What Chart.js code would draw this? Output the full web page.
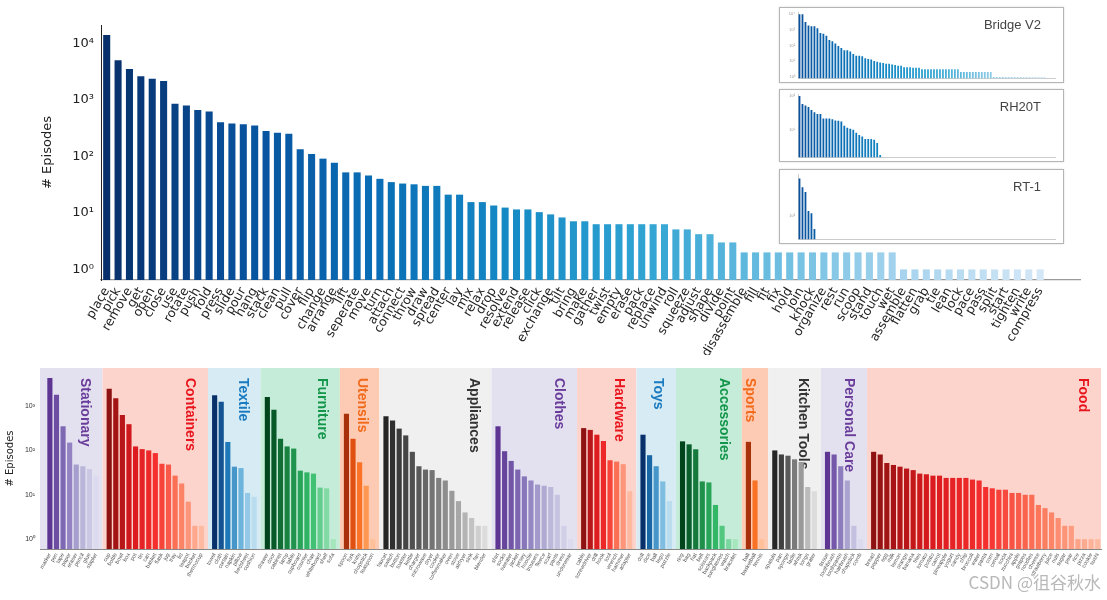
<!DOCTYPE html>
<html>
<head>
<meta charset="UTF-8">
<script src="https://cdn.jsdelivr.net/npm/chart.js"></script>
<style>
*{margin:0;padding:0;box-sizing:border-box;}
body{width:1107px;height:600px;background:#fff;position:relative;overflow:hidden;font-family:'DejaVu Sans',sans-serif;}
#topWrap{position:absolute;left:0;top:0;width:1107px;height:355px;}
#botWrap{position:absolute;left:0;top:360px;width:1107px;height:240px;}
.inset{position:absolute;left:779px;width:285px;background:#fff;border:1px solid #b5b5b5;box-shadow:0 0 2px rgba(0,0,0,.15);}
.inset .name{position:absolute;right:22px;top:9px;font:13px 'Liberation Sans',sans-serif;color:#444;}
.mark{position:absolute;right:6px;bottom:6px;font:17px 'Noto Sans CJK SC','DejaVu Sans',sans-serif;color:rgba(160,160,160,.75);}
</style>
</head>
<body>
<div id="topWrap"><canvas id="topChart"></canvas></div>
<div class="inset" style="top:7px;height:76px;"><canvas id="bridge"></canvas><div class="name">Bridge V2</div></div>
<div class="inset" style="top:89px;height:73px;"><canvas id="rh20t"></canvas><div class="name">RH20T</div></div>
<div class="inset" style="top:169px;height:75px;"><canvas id="rt1"></canvas><div class="name">RT-1</div></div>
<div id="botWrap"><canvas id="botChart"></canvas></div>
<div class="mark">CSDN @徂谷秋水</div>
<script>
// ---- top: verbs ----
const verbs=['place','pick','remove','get','open','close','use','rotate','push','fold','press','slide','pour','hang','stack','clean','pull','cover','flip','change','arrange','lift','seperate','move','turn','attach','connect','throw','draw','spread','center','lay','mix','relax','drop','resolve','extend','release','click','exchange','tilt','bring','make','gather','twist','empty','erase','pack','replace','unwind','roll','squeeze','adjust','shape','divide','point','disassemble','fill','fit','fix','hold','join','knock','organize','rest','run','scoop','stand','touch','wet','assemble','flatten','grab','tie','lean','lock','pace','pass','split','start','tighten','write','compress'];
const verbCounts=[14000,5000,3500,2600,2350,2150,850,790,660,620,400,380,370,350,280,260,250,133,110,91,77,52,52,46,40,35,33,32,30,30,21,21,15.5,15.5,13.5,12.4,11.5,11.5,10.3,9.4,8.3,7.1,7.1,6.3,6.3,6.3,6.3,6.3,6.3,6.3,5.1,5.1,4.2,4.2,3,3,2,2,2,2,2,2,2,2,2,2,2,2,2,2,1,1,1,1,1,1,1,1,1,1,1,1,1];
const logTicks=[1,10,100,1000,10000];

// ---- insets ----
const bridgeCounts=[10000,10000,3200,1900,1700,1700,1300,640,580,430,230,190,140,95,70,52,52,43,29,23,23,21,16,14,13,10.5,9.5,8.5,7.8,7,7,6.4,5.8,5.2,5.2,4.3,4.3,4.3,3.9,3.9,3.9,3.2,3.2,3.2,3.2,3.2,3.2,3.2,3.2,3.2,3.2,3.2,3.2,3.2,2.1,2.1,2.1,2.1,2.1,2.1,2.1,2.1,2.1,2.1,2.1,1,1,1,1,1,1,1,1,1,1,1,1,1,1,1,1,1,1];
const rh20tCounts=[100,59,53,48,39,34,30,30,22,22,22,21,19.5,19,18,13.7,11.8,11.1,10.4,8.5,7.3,6.6,5.6,5.6,5.6,5.3,4.3,1.9];
const rt1Counts=[420,300,250,120,110,60];

// ---- bottom: objects by category ----
const groupNames=['Stationary','Containers','Textile','Furniture','Utensils','Appliances','Clothes','Hardware','Toys','Accessories','Sports','Kitchen Tools','Personal Care','Food'];
const stationaryItems=['marker','pen','tape','paper','eraser','pencil','glue','stapler'];
const stationaryCounts=[4300,1800,350,150,48,44,38,27];
const containerItems=['cup','bottle','bowl','box','pot','tin','can','basket','flask','jug','tray','lid','teapot','bucket','thermocup'];
const containerCounts=[2450,1500,630,390,123,107,100,87,50,48,27,18,7,2,2];
const textileItems=['towel','cloth','curtain','napkin','pillow','bedsheet','cushion'];
const textileCounts=[1750,1250,155,43,40,11,9];
const furnitureItems=['drawer','door','cabinet','lamp','table','cupboard','counter','chair','whiteboard','shelf','sofa'];
const furnitureCounts=[1600,820,183,123,110,35,32,30,14.5,14,1];
const utensilItems=['spoon','fork','knife','chopstick','teaspoon'];
const utensilCounts=[670,183,54,16,1];
const applianceItems=['faucet','switch','button','toaster','kettle','charger','microwave','dryer','cooker','coffeemaker','oven','stove','airfryer','sink','fan','blender'];
const applianceCounts=[585,470,310,218,93,44,37,36,24,21,12.3,7.2,4,3,2,2];
const clothesItems=['shirt','socks','sweater','jacket','jersey','hoodie','trousers','fleece','scarf','pants','dress','underwear'];
const clothesCounts=[350,96,58,37,26,21,17,16,15,10,2,1];
const hardwareItems=['cable','screwdriver','drill','hook','tool','wrench','hammer','adapter'];
const hardwareCounts=[318,290,226,163,60,56,49,12];
const toyItems=['doll','dice','ball','lego','puzzle'];
const toyCounts=[226,78,44,20,7.2];
const accessoryItems=['ring','bag','hat','belt','scissors','backpack','sunglasses','watch','bracelet'];
const accessoryCounts=[160,137,106,20,19,5.9,2,1,1];
const sportsItems=['ball','basketball','tennis'];
const sportsCounts=[156,21,1];
const kitchenItems=['spatula','pan','sponge','ladle','whisk','tongs','grater'];
const kitchenCounts=[100,81,76,63,55,15,12];
const careItems=['tissue','toothbrush','toothpaste','hairbrush','chapstick','comb'];
const careCounts=[93,81,44,21,2,1];
const foodItems=['bread','pepper','egg','milk','lemon','orange','banana','fries','tomato','potato','carrot','pineapple','yogurt','candy','chip','broccoli','water','pasta','corn','cereal','soda','zucchini','apple','grapes','noodles','cheese','strawberry','juice','nuts','sugar','pear','rice','pizza','cookie','sushi'];
const foodCounts=[93,81,52,47,43,39,36,30,29,27,27,24,24,24,24,22,21,15,14,13,13,11,11,10,10,5.9,5,4,3,2,2,1,1,1,1];

const groupItems=[stationaryItems,containerItems,textileItems,furnitureItems,utensilItems,applianceItems,clothesItems,hardwareItems,toyItems,accessoryItems,sportsItems,kitchenItems,careItems,foodItems];
const groupCounts=[stationaryCounts,containerCounts,textileCounts,furnitureCounts,utensilCounts,applianceCounts,clothesCounts,hardwareCounts,toyCounts,accessoryCounts,sportsCounts,kitchenCounts,careCounts,foodCounts];

// styles
const themes={
  purple:{stops:['#5e3592','#8470b8','#b4b0d6','#dcdaee'],bg:'#e3e1f0',text:'#6a3d9a'},
  red:{stops:['#8e1212','#d9191e','#f52e2e','#fc7a5c','#fdbaa0'],bg:'#fdd4cc',text:'#e8141c'},
  blue:{stops:['#08306b','#1f78b8','#6db4dc','#b9dcef'],bg:'#d6ebf4',text:'#1a7ac0'},
  green:{stops:['#00441b','#1b8a45','#35bd6c','#a5e6bd'],bg:'#c5ecd8',text:'#13964b'},
  orange:{stops:['#a8300a','#f25a12','#ff8a3a','#ffc09a'],bg:'#fdcbb3',text:'#f26a1b'},
  grey:{stops:['#262626','#5a5a5a','#9a9a9a','#dcdcdc'],bg:'#f0f0f0',text:'#333'}
};
const groupTheme=['purple','red','blue','green','orange','grey','purple','red','blue','green','orange','grey','purple','red'];

function hex(c){return [1,3,5].map(i=>parseInt(c.substr(i,2),16));}
function ramp(stops,n){
  const out=[];
  for(let i=0;i<n;i++){
    const t=n===1?0:i/(n-1), p=t*(stops.length-1), k=Math.min(Math.floor(p),stops.length-2), f=p-k;
    const a=hex(stops[k]),b=hex(stops[k+1]);
    out.push('rgb('+a.map((v,j)=>Math.round(v+(b[j]-v)*f)).join(',')+')');
  }
  return out;
}
const blueStops=['#08306b','#08519c','#0a6db5','#1589c4','#2fa3d2','#6bbde0','#a8d4ee','#d3e7f6'];
const sup=['⁰','¹','²','³','⁴'];
const powLabel=v=>{const e=Math.round(Math.log10(v));return Number.isInteger(Math.log10(v))?'10'+sup[e]:'';};

// top chart
const topLabels=verbs.concat(['','','']);
new Chart(document.getElementById('topChart'),{
  type:'bar',
  data:{labels:topLabels,datasets:[{data:verbCounts,backgroundColor:ramp(blueStops,verbCounts.length),barPercentage:0.62,categoryPercentage:1}]},
  options:{responsive:true,maintainAspectRatio:false,animation:false,
    layout:{padding:{top:25,right:27,left:36,bottom:0}},
    plugins:{legend:{display:false},tooltip:{enabled:false}},
    scales:{
      x:{grid:{display:false,drawTicks:true,tickLength:4},border:{color:'#999',width:1.2},
        ticks:{autoSkip:false,minRotation:60,maxRotation:60,color:'#222',font:{family:'DejaVu Sans',size:12.5},padding:1},
        afterFit:s=>{s.height=75;}},
      y:{type:'logarithmic',min:0.65,max:21000,grid:{display:false,tickLength:4},border:{color:'#222',width:1},
        afterBuildTicks:s=>{s.ticks=logTicks.map(v=>({value:v}));},
        ticks:{callback:powLabel,color:'#222',font:{family:'DejaVu Sans',size:13}},
        title:{display:true,text:'# Episodes',color:'#222',font:{family:'DejaVu Sans',size:13}},
        afterFit:s=>{s.width=65;}}
    }}
});

function inset(id,counts,total,min,max,ticks){
  const labels=Array.from({length:total},(_,i)=>i);
  new Chart(document.getElementById(id),{
    type:'bar',
    data:{labels,datasets:[{data:counts,backgroundColor:ramp(blueStops.slice(1),total),barPercentage:0.6,categoryPercentage:1}]},
    options:{responsive:true,maintainAspectRatio:false,animation:false,
      layout:{padding:{top:4,right:8,left:0,bottom:2}},
      plugins:{legend:{display:false},tooltip:{enabled:false}},
      scales:{
        x:{grid:{display:false,tickLength:1},border:{color:'#ccc'},ticks:{display:false}},
        y:{type:'logarithmic',min,max,grid:{display:false,tickLength:2},border:{color:'#ccc'},
          afterBuildTicks:s=>{s.ticks=ticks.map(v=>({value:v}));},
          ticks:{callback:powLabel,color:'#999',font:{size:4},padding:1},
          afterFit:s=>{s.width=18;}}
      }}
  });
}
inset('bridge',bridgeCounts,86,0.8,14000,logTicks);
inset('rh20t',rh20tCounts,86,1.6,115,[10,100]);
inset('rt1',rt1Counts,86,40,500,[100]);

// bottom chart
const botLabels=[''],botValues=[null],botColors=['#fff'],spans=[];
groupItems.forEach((items,g)=>{
  const th=themes[groupTheme[g]], cols=ramp(th.stops,items.length);
  const start=botLabels.length;
  items.forEach((it,i)=>{botLabels.push(it);botValues.push(groupCounts[g][i]);botColors.push(cols[i]);});
  spans.push({start,end:botLabels.length-1,theme:th,name:groupNames[g]});
  if(g<groupItems.length-1){botLabels.push('');botValues.push(null);botColors.push('#fff');}
});

const bandPlugin={
  id:'bands',
  beforeDatasetsDraw(chart){
    const {ctx,chartArea:a,scales:{x}}=chart;
    const step=x.getPixelForValue(1)-x.getPixelForValue(0);
    ctx.save();
    spans.forEach((s,i)=>{
      const l=i===0?a.left:x.getPixelForValue(s.start)-step;
      const r=i===spans.length-1?a.right:x.getPixelForValue(s.end)+step;
      ctx.fillStyle=s.theme.bg;ctx.fillRect(l,a.top,r-l,a.bottom-a.top);
      ctx.save();ctx.translate(r-18,a.top+10);ctx.rotate(Math.PI/2);
      ctx.fillStyle=s.theme.text;ctx.font='bold 14px "Liberation Sans",sans-serif';ctx.textBaseline='middle';
      ctx.fillText(s.name,0,0);ctx.restore();
    });
    ctx.restore();
  }
};

new Chart(document.getElementById('botChart'),{
  type:'bar',
  data:{labels:botLabels,datasets:[{data:botValues,backgroundColor:botColors,barPercentage:0.78,categoryPercentage:1}]},
  plugins:[bandPlugin],
  options:{responsive:true,maintainAspectRatio:false,animation:false,
    layout:{padding:{top:8,right:6,left:0,bottom:0}},
    plugins:{legend:{display:false},tooltip:{enabled:false}},
    scales:{
      x:{grid:{display:false,tickLength:3},border:{color:'#888'},
        ticks:{autoSkip:false,minRotation:60,maxRotation:60,color:'#555',font:{size:5.5},padding:0},
        afterFit:s=>{s.height=51;}},
      y:{type:'logarithmic',min:0.63,max:7200,grid:{display:false,tickLength:3},border:{color:'#888'},
        afterBuildTicks:s=>{s.ticks=[1,10,100,1000].map(v=>({value:v}));},
        ticks:{callback:powLabel,color:'#333',font:{size:7},padding:2},
        title:{display:true,text:'# Episodes',color:'#222',font:{family:'DejaVu Sans',size:10}},
        afterFit:s=>{s.width=40;}}
    }}
});
</script>
</body>
</html>
